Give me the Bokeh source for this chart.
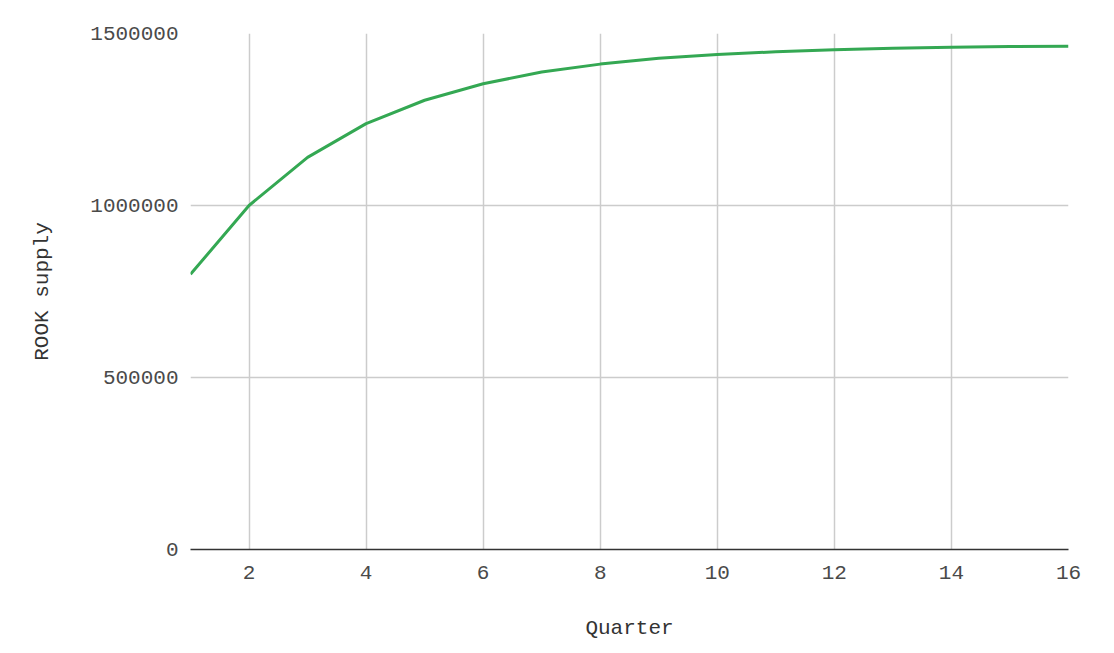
from bokeh.plotting import figure
from bokeh.models import FixedTicker, BasicTickFormatter, Range1d
from bokeh.embed import file_html
from bokeh.resources import INLINE

quarters = list(range(1, 17))
supply = [800000, 1000000, 1140000, 1238000, 1306000, 1354000, 1388000, 1411000,
          1428000, 1439000, 1447000, 1453000, 1457000, 1460000, 1462000, 1463000]
x_ticks = [2, 4, 6, 8, 10, 12, 14, 16]
y_ticks = [0, 500000, 1000000, 1500000]

FONT = "Liberation Mono"

p = figure(width=1098, height=645, output_backend="svg", toolbar_location=None,
           x_range=Range1d(1, 16), y_range=Range1d(0, 1500000),
           min_border_left=190, min_border_right=30, min_border_top=33, min_border_bottom=96)
p.outline_line_color = None
p.background_fill_color = "white"
p.border_fill_color = "white"

p.line(quarters, supply, line_color="#34a853", line_width=3)

for ax in (p.xaxis[0], p.yaxis[0]):
    ax.major_label_text_font = FONT
    ax.axis_label_text_font = FONT
    ax.major_label_text_font_size = "21px"
    ax.axis_label_text_font_size = "21px"
    ax.major_label_text_color = "#4a4a4a"
    ax.axis_label_text_color = "#333333"
    ax.axis_label_text_font_style = "normal"
    ax.major_tick_line_color = None
    ax.minor_tick_line_color = None

p.xaxis.ticker = FixedTicker(ticks=x_ticks)
p.yaxis.ticker = FixedTicker(ticks=y_ticks)
p.yaxis.formatter = BasicTickFormatter(use_scientific=False)
p.xaxis.axis_label = "Quarter"
p.yaxis.axis_label = "ROOK supply"
p.yaxis.axis_line_color = None
p.xaxis.axis_line_color = "#333333"
p.xaxis.axis_line_width = 1.5
p.xaxis.major_label_standoff = 10
p.xaxis.axis_label_standoff = 35
p.yaxis.major_label_standoff = 6
p.yaxis.axis_label_standoff = 33

p.xgrid.ticker = FixedTicker(ticks=x_ticks)
p.ygrid.ticker = FixedTicker(ticks=y_ticks)
p.grid.grid_line_color = "#cccccc"
p.grid.grid_line_width = 1.5

open("out.html", "w").write(file_html(p, INLINE))
